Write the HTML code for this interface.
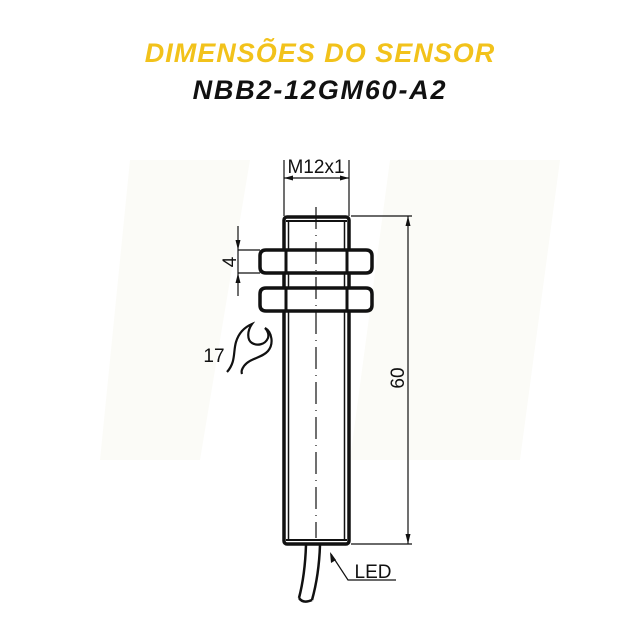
<!DOCTYPE html>
<html><head><meta charset="utf-8"><style>
html,body{margin:0;padding:0;background:#fff;}
svg{display:block;}
</style></head><body>
<svg width="640" height="640" viewBox="0 0 640 640" xmlns="http://www.w3.org/2000/svg">
<rect width="640" height="640" fill="#fff"/>
<g fill="#fbfbf7">
<polygon points="130,160 250,160 200,460 100,460"/>
<polygon points="390,160 560,160 520,460 350,460"/>
</g>
<text x="320" y="62" text-anchor="middle" font-family="Liberation Sans, sans-serif" font-style="italic" font-weight="bold" font-size="27" fill="#f2c21b" letter-spacing="1">DIMENSÕES DO SENSOR</text>
<text x="320" y="99" text-anchor="middle" font-family="Liberation Sans, sans-serif" font-style="italic" font-weight="bold" font-size="27" fill="#111" letter-spacing="1.8">NBB2-12GM60-A2</text>

<g stroke="#111" fill="none">
<rect x="284" y="217" width="65" height="327" rx="3" stroke-width="3.5"/>
<line x1="288.5" y1="221" x2="288.5" y2="540" stroke-width="1.5"/>
<line x1="344.5" y1="221" x2="344.5" y2="540" stroke-width="1.5"/>
<line x1="286" y1="221" x2="347" y2="221" stroke-width="2"/>
<line x1="286" y1="540" x2="347" y2="540" stroke-width="2"/>
<g stroke-width="3.5" fill="#fff">
<path d="M266,250 H366 Q372,250 372,256 V267 Q372,273 366,273 H266 Q260,273 260,267 V256 Q260,250 266,250 Z"/>
<path d="M266,288 H366 Q372,288 372,294 V305 Q372,311 366,311 H266 Q260,311 260,305 V294 Q260,288 266,288 Z"/>
</g>
<g stroke-width="3">
<line x1="286" y1="250" x2="286" y2="273"/><line x1="347" y1="250" x2="347" y2="273"/>
<line x1="286" y1="288" x2="286" y2="311"/><line x1="347" y1="288" x2="347" y2="311"/>
</g>
<line x1="316" y1="207" x2="316" y2="538" stroke-width="1.2" stroke-dasharray="22,6,1,6"/>
<g stroke-width="1.2">
<line x1="284" y1="160" x2="284" y2="216"/>
<line x1="349" y1="160" x2="349" y2="216"/>
<line x1="284" y1="178" x2="349" y2="178"/>
<line x1="351" y1="216" x2="412" y2="216"/>
<line x1="351" y1="544" x2="412" y2="544"/>
<line x1="408" y1="216" x2="408" y2="544"/>
<line x1="238" y1="250" x2="260" y2="250"/>
<line x1="238" y1="273" x2="260" y2="273"/>
<line x1="238" y1="226" x2="238" y2="296"/>
<polyline points="331,554 348,580 396,580"/>
</g>
<path d="M306,545 Q305,575 299,598" stroke-width="2.5"/>
<path d="M320,545 Q319,575 312,600" stroke-width="2.5"/>
<path d="M299,598 Q303,604 312,600" stroke-width="2.5"/>
<g stroke-width="2.2">
<path d="M227,372 C236,362 233,352 236,342 C239,332 245,327 252,324 C247,331 247,340 252,343 C257,346 265,345 268,338 C269,335 268,331 265,328 C272,332 274,344 268,351 C262,358 250,358 244,366 C242,369 241,371 242,374"/>
</g>
</g>
<g fill="#111">
<polygon points="284,178 293,175.5 293,180.5"/>
<polygon points="349,178 340,175.5 340,180.5"/>
<polygon points="408,216 405.5,226 410.5,226"/>
<polygon points="408,544 405.5,534 410.5,534"/>
<polygon points="238,250 235.5,240 240.5,240"/>
<polygon points="238,273 235.5,283 240.5,283"/>
<polygon points="330,552 331,563 336,560"/>
</g>
<g font-family="Liberation Sans, sans-serif" fill="#111">
<text x="316" y="173" text-anchor="middle" font-size="19">M12x1</text>
<text x="214" y="362" text-anchor="middle" font-size="19">17</text>
<text x="373" y="578" text-anchor="middle" font-size="19">LED</text>
<text transform="translate(236,262) rotate(-90)" text-anchor="middle" font-size="19">4</text>
<text transform="translate(404,378) rotate(-90)" text-anchor="middle" font-size="19">60</text>
</g>
</svg>
</body></html>
